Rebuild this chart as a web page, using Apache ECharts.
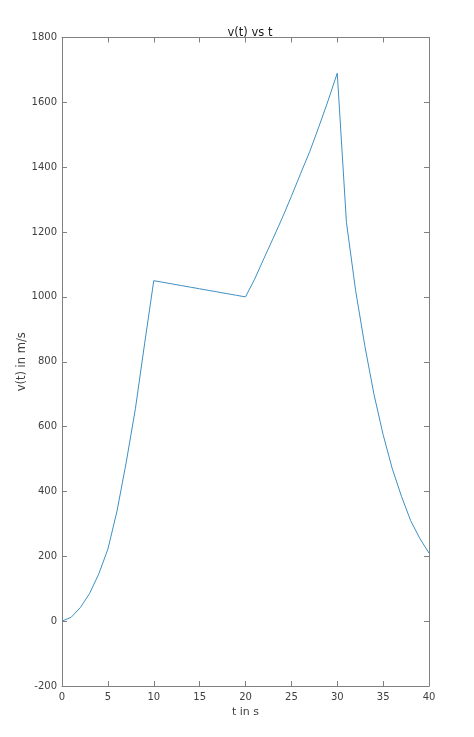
<!DOCTYPE html>
<html>
<head>
<meta charset="utf-8">
<script src="https://cdn.jsdelivr.net/npm/echarts@6/dist/echarts.min.js"></script>
<style>
  html, body { margin: 0; padding: 0; background: #fff; }
  #chart { width: 474px; height: 737px; }
</style>
</head>
<body>
<div id="chart"></div>
<script>
// time in s, one sample per second
var times = [0, 1, 2, 3, 4, 5, 6, 7, 8, 9, 10,
  11, 12, 13, 14, 15, 16, 17, 18, 19, 20,
  21, 22, 23, 24, 25, 26, 27, 28, 29, 30,
  31, 32, 33, 34, 35, 36, 37, 38, 39, 40];
// v(t) in m/s
var speeds = [0, 12, 42, 85, 145, 222, 340, 490, 655, 855, 1050,
  1045, 1040, 1035, 1030, 1025, 1020, 1015, 1010, 1005, 1000,
  1055, 1118, 1180, 1243, 1310, 1380, 1448, 1525, 1605, 1690,
  1230, 1020, 850, 700, 575, 470, 385, 310, 255, 210];
var xTicks = [0, 5, 10, 15, 20, 25, 30, 35, 40];
var yTicks = [-200, 0, 200, 400, 600, 800, 1000, 1200, 1400, 1600, 1800];

var points = times.map(function (t, i) { return [t, speeds[i]]; });

var chart = echarts.init(document.getElementById('chart'));
var axisGray = '#808080';
var labelGray = '#404040';
var fontFam = 'DejaVu Sans';

function frameAxis(extra) {
  var base = {
    type: 'value',
    axisLine: { show: true, onZero: false, lineStyle: { color: axisGray, width: 1 } },
    axisTick: { show: true, inside: true, length: 5, lineStyle: { color: axisGray } },
    splitLine: { show: false },
    axisLabel: { show: false }
  };
  return Object.assign(base, extra);
}

var option = {
  animation: false,
  title: {
    text: 'v(t) vs t',
    left: 245,
    textAlign: 'center',
    top: 22,
    textStyle: { fontFamily: fontFam, fontSize: 11.5, fontWeight: 'normal', color: '#1a1a1a' }
  },
  grid: { left: 62, right: 45, top: 37.5, bottom: 51 },
  xAxis: [
    frameAxis({
      min: xTicks[0], max: xTicks[xTicks.length - 1], interval: 5,
      position: 'bottom',
      name: 't in s', nameLocation: 'middle', nameGap: 21, nameMoveOverlap: false,
      nameTextStyle: { fontFamily: fontFam, fontSize: 11, color: labelGray },
      axisLabel: { show: true, margin: 6, fontFamily: fontFam, fontSize: 10, color: labelGray }
    }),
    frameAxis({ min: xTicks[0], max: xTicks[xTicks.length - 1], interval: 5, position: 'top' })
  ],
  yAxis: [
    frameAxis({
      min: yTicks[0], max: yTicks[yTicks.length - 1], interval: 200,
      position: 'left',
      name: 'v(t) in m/s', nameLocation: 'middle', nameGap: 34, nameMoveOverlap: false,
      nameTextStyle: { fontFamily: fontFam, fontSize: 11.5, color: labelGray },
      axisLabel: {
        show: true, margin: 5, fontFamily: fontFam, fontSize: 10, color: labelGray,
        formatter: function (v) { return String(v); }
      }
    }),
    frameAxis({ min: yTicks[0], max: yTicks[yTicks.length - 1], interval: 200, position: 'right' })
  ],
  series: [{
    type: 'line',
    data: points,
    showSymbol: false,
    lineStyle: { color: '#3f8fc4', width: 1 },
    itemStyle: { color: '#3f8fc4' }
  }]
};
chart.setOption(option);
</script>
</body>
</html>
